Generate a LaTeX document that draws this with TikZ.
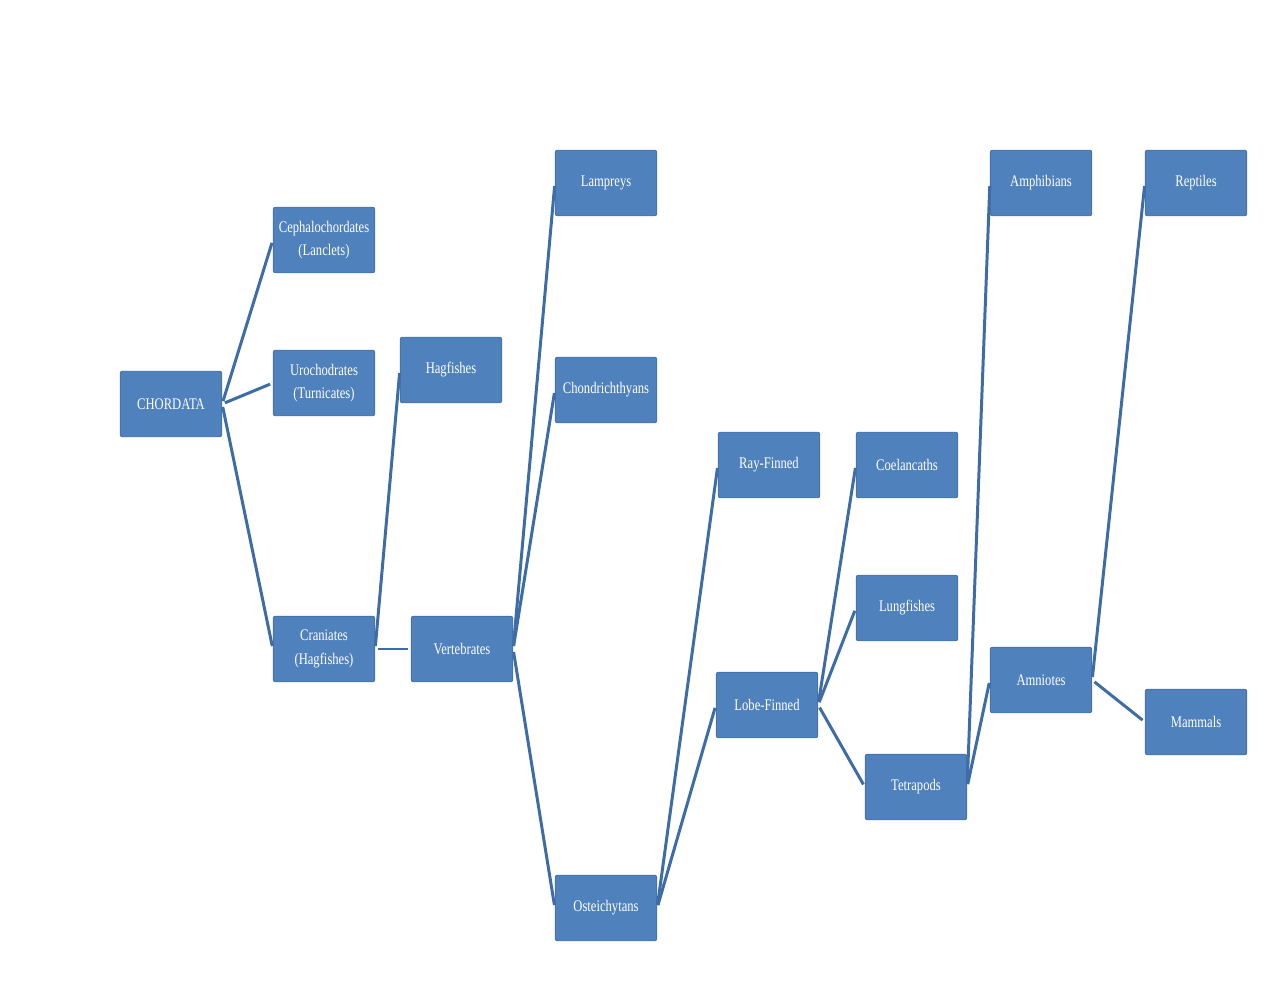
\documentclass[tikz,border=0pt]{standalone}
\usepackage{fontspec}
\setmainfont{Liberation Serif}[FakeStretch=0.78]
\begin{document}
\begin{tikzpicture}[x=0.02cm,y=-0.02cm,
  box/.style={fill=boxblue,draw=boxblue!85!black,line width=0.4pt,rounded corners=1.2pt,minimum width=57.8pt,minimum height=37.4pt,inner sep=1pt,text=white,font=\fontsize{9.2}{13.5}\selectfont,align=center},
  link/.style={draw=lineblue,line width=1.7pt,shorten <=1.7pt,shorten >=1.7pt}]
\definecolor{boxblue}{HTML}{4F81BD}
\definecolor{lineblue}{HTML}{3E6CA6}
\useasboundingbox (0,0) rectangle (1280,989);
\node[box] (ch) at (171,404) {CHORDATA};
\node[box] (ce) at (324,240) {Cephalochordates\\(Lanclets)};
\node[box] (ur) at (324,383) {Urochodrates\\(Turnicates)};
\node[box] (cr) at (324,649) {Craniates\\(Hagfishes)};
\node[box] (hg) at (451,370) {Hagfishes};
\node[box] (ve) at (462,649) {Vertebrates};
\node[box] (la) at (606,183) {Lampreys};
\node[box] (cd) at (606,390) {Chondrichthyans};
\node[box] (os) at (606,908) {Osteichytans};
\node[box] (ra) at (769,465) {Ray-Finned};
\node[box] (lo) at (767,705) {Lobe-Finned};
\node[box] (co) at (907,465) {Coelancaths};
\node[box] (lu) at (907,608) {Lungfishes};
\node[box] (te) at (916,787) {Tetrapods};
\node[box] (am) at (1041,183) {Amphibians};
\node[box] (an) at (1041,680) {Amniotes};
\node[box] (re) at (1196,183) {Reptiles};
\node[box] (ma) at (1196,722) {Mammals};
\foreach \a/\b in {ch/ce,ch/ur,ch/cr,cr/hg,cr/ve,ve/la,ve/cd,ve/os,os/ra,os/lo,lo/co,lo/lu,lo/te,te/am,te/an,an/re,an/ma}
  \draw[link] (\a.east) -- (\b.west);
\end{tikzpicture}
\end{document}
